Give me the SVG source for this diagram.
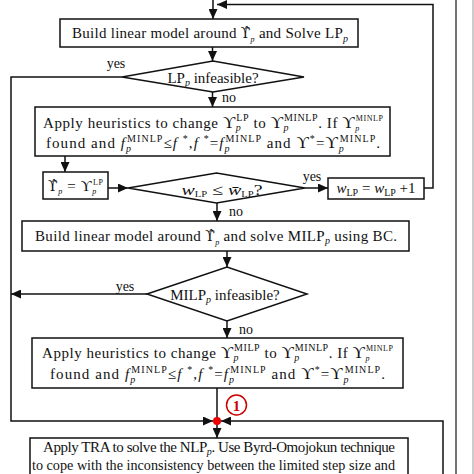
<svg xmlns="http://www.w3.org/2000/svg" width="474" height="474" viewBox="0 0 474 474">
<style>
.bg{fill:#fff}
.box{fill:#fff;stroke:#111;stroke-width:1.5}
.ln{fill:none;stroke:#111;stroke-width:1.5}
.t{font-family:"Liberation Serif","DejaVu Serif",serif;font-size:15px;fill:#111}
.lb{font-family:"Liberation Serif","DejaVu Serif",serif;font-size:14px;fill:#111}
.s{font-size:10px}
.xs{font-size:8px}
.i{font-style:italic}
.y{font-size:17px}
.h{font-family:"DejaVu Serif",serif;font-size:14px}
</style>
<defs>
<marker id="ah" markerUnits="userSpaceOnUse" markerWidth="10" markerHeight="9" refX="10" refY="4.5" orient="auto">
<path d="M0,0 L10,4.5 L0,9 z" fill="#111"/>
</marker>
</defs>
<rect class="bg" width="474" height="474"/>
<line x1="456" y1="0" x2="456" y2="474" stroke="#444" stroke-width="1.5"/>
<line x1="473" y1="0" x2="473" y2="474" stroke="#999" stroke-width="1"/>

<g id="connectors">
<polyline class="ln" points="424,188 433,188 433,4.5 217,4.5" marker-end="url(#ah)"/>
<line class="ln" x1="213" y1="0" x2="213" y2="19" marker-end="url(#ah)"/>
<line class="ln" x1="212.5" y1="47" x2="212.5" y2="61" marker-end="url(#ah)"/>
<polyline class="ln" points="122,77 11,77 11,421 213,421" marker-end="url(#ah)"/>
<line class="ln" x1="212.5" y1="92" x2="212.5" y2="107" marker-end="url(#ah)"/>
<line class="ln" x1="65" y1="156" x2="65" y2="172" marker-end="url(#ah)"/>
<line class="ln" x1="108" y1="188" x2="128" y2="188" marker-end="url(#ah)"/>
<line class="ln" x1="305" y1="188" x2="328" y2="188" marker-end="url(#ah)"/>
<line class="ln" x1="217" y1="203" x2="217" y2="221" marker-end="url(#ah)"/>
<line class="ln" x1="227" y1="251" x2="227" y2="267" marker-end="url(#ah)"/>
<line class="ln" x1="147" y1="294" x2="11" y2="294" marker-end="url(#ah)"/>
<line class="ln" x1="227" y1="321" x2="227" y2="338" marker-end="url(#ah)"/>
<line class="ln" x1="217" y1="388" x2="217" y2="421"/>
<polyline class="ln" points="443,474 443,421 221,421" marker-end="url(#ah)"/>
<line class="ln" x1="217" y1="421" x2="217" y2="438" marker-end="url(#ah)"/>
<text class="lb" x="116" y="68" text-anchor="middle">yes</text>
<text class="lb" x="229" y="102" text-anchor="middle">no</text>
<text class="lb" x="312" y="181" text-anchor="middle">yes</text>
<text class="lb" x="236" y="216" text-anchor="middle">no</text>
<text class="lb" x="125" y="291" text-anchor="middle">yes</text>
<text class="lb" x="246" y="334" text-anchor="middle">no</text>
</g>

<g id="junction">
<circle cx="217" cy="421" r="4" fill="#e00"/>
<circle cx="236.5" cy="405" r="10" fill="none" stroke="#c00" stroke-width="1.5"/>
<text x="236.5" y="410.5" text-anchor="middle" font-family="Liberation Serif,serif" font-size="15px" font-weight="bold" fill="#c00">1</text>
</g>

<g id="n1">
<rect class="box" x="60" y="19" width="298" height="28"/>
<text class="t" x="210" y="38" text-anchor="middle" textLength="276" lengthAdjust="spacing">Build linear model around <tspan class="h">ϒ̂</tspan><tspan class="xs i" dy="4">p</tspan><tspan dy="-4"> and Solve LP</tspan><tspan class="s i" dy="4">p</tspan></text>
</g>

<g id="d1">
<polygon class="box" points="122,77 213,61 304,77 213,92"/>
<text class="t" x="213" y="83" text-anchor="middle">LP<tspan class="s i" dy="3">p</tspan><tspan dy="-3"> infeasible?</tspan></text>
</g>

<g id="n2">
<rect class="box" x="35" y="107" width="355" height="49"/>
<text class="t" x="213" y="128" text-anchor="middle" textLength="340" lengthAdjust="spacing">Apply heuristics to change <tspan class="y">ϒ</tspan><tspan class="s i" dy="3">p</tspan><tspan class="s" dx="-5" dy="-10">LP</tspan><tspan dy="7"> to </tspan><tspan class="y">ϒ</tspan><tspan class="s i" dy="3">p</tspan><tspan class="s" dx="-5" dy="-10">MINLP</tspan><tspan dy="7">. If </tspan><tspan class="y">ϒ</tspan><tspan class="xs i" dy="3">p</tspan><tspan class="xs" dx="-4" dy="-10">MINLP</tspan></text>
<text class="t" x="213" y="148" text-anchor="middle" textLength="334" lengthAdjust="spacing">found and <tspan class="i">f</tspan><tspan class="s i" dy="4">p</tspan><tspan class="s" dx="-5" dy="-10">MINLP</tspan><tspan dy="6">≤</tspan><tspan class="i">f </tspan><tspan class="s" dy="-6">*</tspan><tspan dy="6">,</tspan><tspan class="i">f </tspan><tspan class="s" dy="-6">*</tspan><tspan dy="6">=</tspan><tspan class="i">f</tspan><tspan class="s i" dy="4">p</tspan><tspan class="s" dx="-5" dy="-10">MINLP</tspan><tspan dy="6"> and </tspan><tspan class="y">ϒ</tspan><tspan class="s" dy="-6">*</tspan><tspan dy="6">=</tspan><tspan class="y">ϒ</tspan><tspan class="s i" dy="4">p</tspan><tspan class="s" dx="-5" dy="-10">MINLP</tspan><tspan dy="6">.</tspan></text>
</g>

<g id="n3">
<rect class="box" x="43" y="172" width="65" height="27"/>
<text class="t" x="75.5" y="191" text-anchor="middle" textLength="55" lengthAdjust="spacing"><tspan class="h">ϒ̂</tspan><tspan class="xs i" dy="3">p</tspan><tspan dy="-3"> = ϒ</tspan><tspan class="xs i" dy="3">p</tspan><tspan class="xs" dx="-4" dy="-9">LP</tspan></text>
</g>

<g id="d2">
<polygon class="box" points="128,188 216.5,173 305,188 216.5,203"/>
<text class="t" x="222" y="195" text-anchor="middle" textLength="81" lengthAdjust="spacingAndGlyphs"><tspan class="i">w</tspan><tspan class="xs" dy="2">LP</tspan><tspan dy="-2"> ≤ </tspan><tspan class="i">w̄</tspan><tspan class="xs" dy="2">LP</tspan><tspan dy="-2">?</tspan></text>
</g>

<g id="n4">
<rect class="box" x="328" y="178" width="96" height="21"/>
<text class="t" x="376" y="193" text-anchor="middle"><tspan class="i">w</tspan><tspan class="s" dy="3">LP</tspan><tspan dy="-3"> = </tspan><tspan class="i">w</tspan><tspan class="s" dy="3">LP</tspan><tspan dy="-3"> +1</tspan></text>
</g>

<g id="n5">
<rect class="box" x="22" y="221" width="387" height="30"/>
<text class="t" x="216" y="241" text-anchor="middle" textLength="362" lengthAdjust="spacing">Build linear model around  <tspan class="h">ϒ̂</tspan><tspan class="xs i" dy="4">p</tspan><tspan dy="-4"> and solve MILP</tspan><tspan class="s i" dy="3">p</tspan><tspan dy="-3"> using BC.</tspan></text>
</g>

<g id="d3">
<polygon class="box" points="147,294 227,267 307,294 227,321"/>
<text class="t" x="225" y="300" text-anchor="middle">MILP<tspan class="s i" dy="3">p</tspan><tspan dy="-3"> infeasible?</tspan></text>
</g>

<g id="n6">
<rect class="box" x="32" y="338" width="371" height="50"/>
<text class="t" x="217.5" y="358" text-anchor="middle" textLength="351" lengthAdjust="spacing">Apply heuristics to change <tspan class="y">ϒ</tspan><tspan class="s i" dy="3">p</tspan><tspan class="s" dx="-5" dy="-10">MILP</tspan><tspan dy="7"> to </tspan><tspan class="y">ϒ</tspan><tspan class="s i" dy="3">p</tspan><tspan class="s" dx="-5" dy="-10">MINLP</tspan><tspan dy="7">. If </tspan><tspan class="y">ϒ</tspan><tspan class="xs i" dy="3">p</tspan><tspan class="xs" dx="-4" dy="-10">MINLP</tspan></text>
<text class="t" x="217.5" y="379" text-anchor="middle" textLength="335" lengthAdjust="spacing">found and <tspan class="i">f</tspan><tspan class="s i" dy="4">p</tspan><tspan class="s" dx="-5" dy="-10">MINLP</tspan><tspan dy="6">≤</tspan><tspan class="i">f </tspan><tspan class="s" dy="-6">*</tspan><tspan dy="6">,</tspan><tspan class="i">f </tspan><tspan class="s" dy="-6">*</tspan><tspan dy="6">=</tspan><tspan class="i">f</tspan><tspan class="s i" dy="4">p</tspan><tspan class="s" dx="-5" dy="-10">MINLP</tspan><tspan dy="6"> and </tspan><tspan class="y">ϒ</tspan><tspan class="s" dy="-6">*</tspan><tspan dy="6">=</tspan><tspan class="y">ϒ</tspan><tspan class="s i" dy="4">p</tspan><tspan class="s" dx="-5" dy="-10">MINLP</tspan><tspan dy="6">.</tspan></text>
</g>

<g id="n7">
<rect class="box" x="30" y="438" width="378" height="50"/>
<text class="t" x="219" y="452" text-anchor="middle" textLength="352" lengthAdjust="spacing">Apply TRA to solve the NLP<tspan class="s i" dy="3">p</tspan><tspan dy="-3">. Use  Byrd-Omojokun technique</tspan></text>
<text class="t" x="213.5" y="470" text-anchor="middle" textLength="363" lengthAdjust="spacingAndGlyphs">to cope with the inconsistency between the limited step size and</text>
</g>
</svg>
